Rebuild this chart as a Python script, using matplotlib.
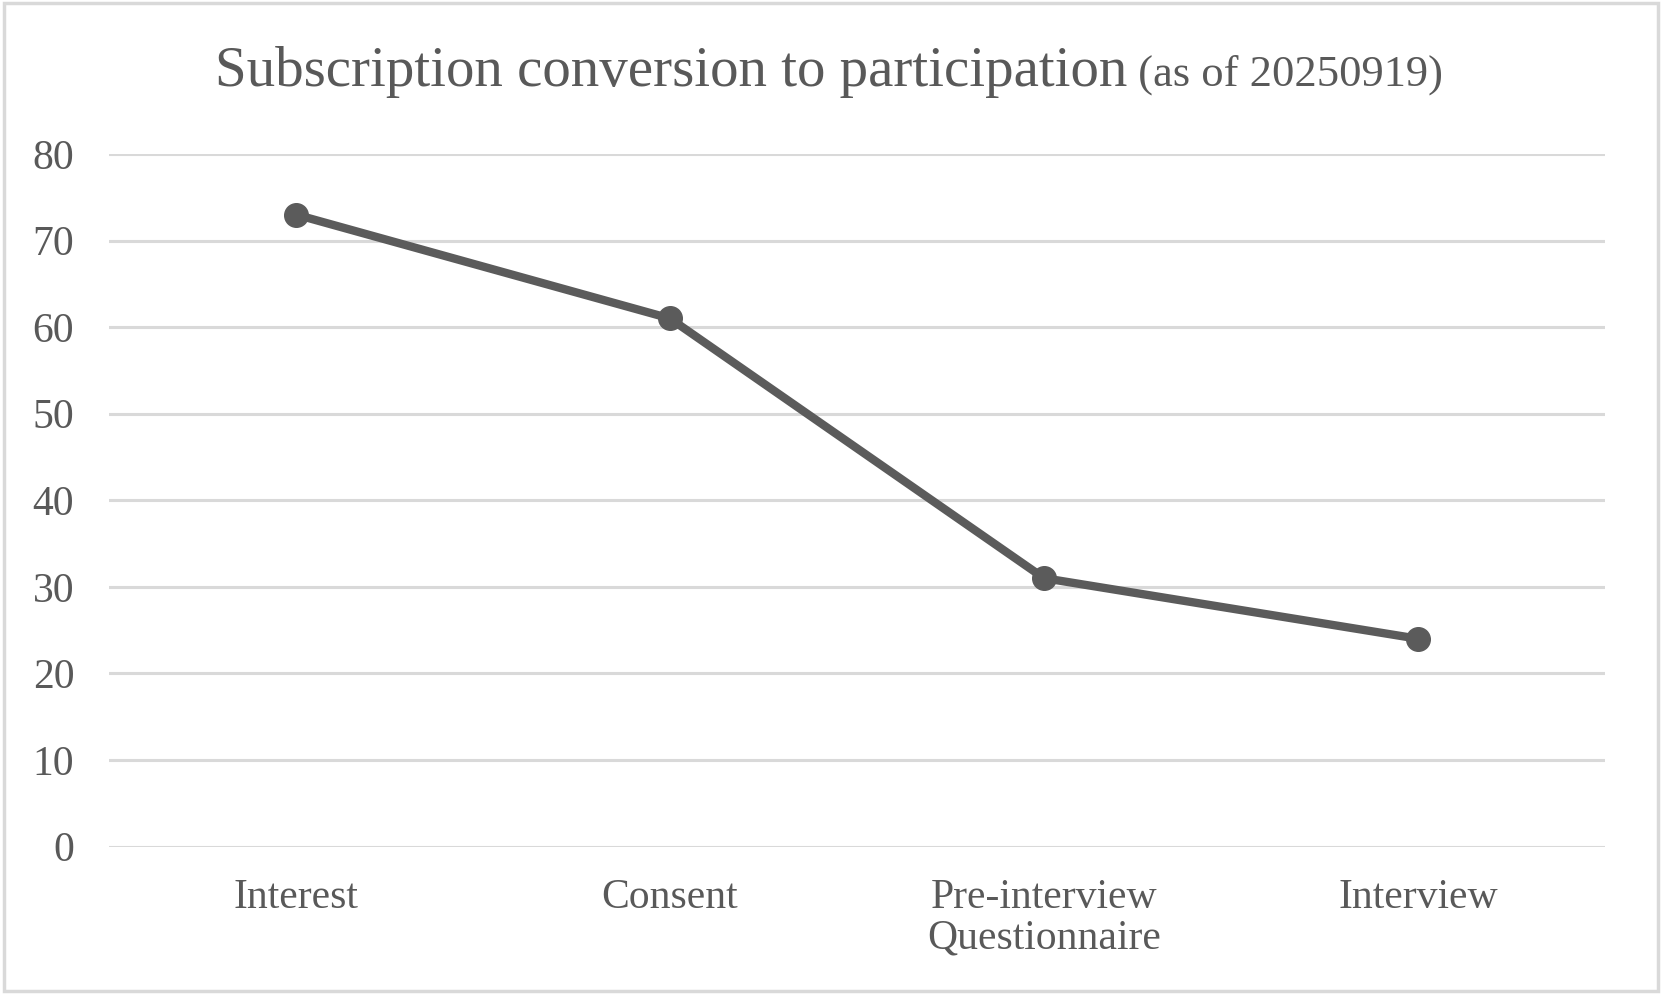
import matplotlib.pyplot as plt
from matplotlib.patches import Rectangle

stages = ["Interest", "Consent", "Pre-interview\nQuestionnaire", "Interview"]
counts = [73, 61, 31, 24]
y_ticks = [0, 10, 20, 30, 40, 50, 60, 70, 80]

title_main = "Subscription conversion to participation"
title_note = " (as of 20250919)"

text_color = "#595959"
line_color = "#5b5b5b"
grid_color = "#d9d9d9"

plt.rcParams['font.family'] = ['Liberation Serif', 'DejaVu Serif']

fig = plt.figure(figsize=(16.63, 9.99), dpi=100)
ax = fig.add_axes([109 / 1663, 1 - 846.5 / 999, (1605 - 109) / 1663, (846.5 - 154) / 999])

positions = [i + 0.5 for i in range(len(stages))]
ax.plot(positions, counts, color=line_color, linewidth=6, marker='o',
        markersize=17, clip_on=False, zorder=3, solid_capstyle='round')

ax.set_xlim(0, len(stages))
ax.set_ylim(0, 80)
ax.set_yticks(y_ticks)
ax.set_xticks(positions)
ax.set_xticklabels(stages, linespacing=1.08)
ax.yaxis.grid(True, color=grid_color, linewidth=2.2)
ax.set_axisbelow(True)
for s in ax.spines.values():
    s.set_visible(False)
ax.tick_params(axis='both', length=0, labelsize=30, labelcolor=text_color)
ax.tick_params(axis='y', pad=25)
ax.tick_params(axis='x', pad=23)

# title in two sizes, centred as one line
renderer = fig.canvas.get_renderer()
t1 = fig.text(0, 1 - 86 / 999, title_main, fontsize=41, color=text_color, va='baseline')
t2 = fig.text(0, 1 - 86 / 999, title_note, fontsize=32, color=text_color, va='baseline')
w1 = t1.get_window_extent(renderer).width
w2 = t2.get_window_extent(renderer).width
x0 = 829 - (w1 + w2) / 2
t1.set_x(x0 / 1663)
t2.set_x((x0 + w1) / 1663)

fig.patches.append(Rectangle((4 / 1663, 1 - 991 / 999), 1654 / 1663, 988 / 999,
                             transform=fig.transFigure, fill=False,
                             edgecolor=grid_color, linewidth=2.5))

fig.savefig("out.png", dpi=100)
